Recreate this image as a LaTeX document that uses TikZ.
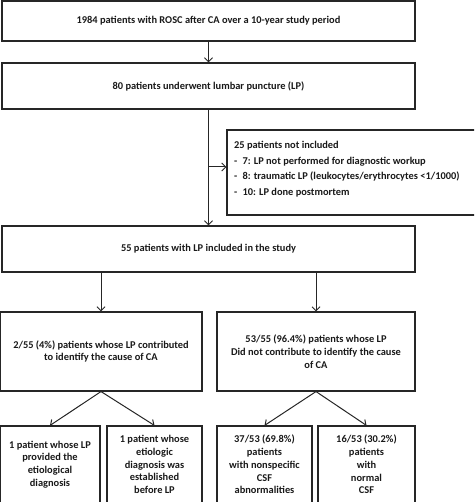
\documentclass[tikz,border=0pt]{standalone}
\usepackage{fontspec}
\setmainfont{Carlito}
\usetikzlibrary{arrows.meta}
\begin{document}
\begin{tikzpicture}[x=1pt,y=-1pt,
  box/.style={draw=black!85,line width=1.1pt,inner sep=0pt,rectangle,
    font=\bfseries\fontsize{10.4}{12.7}\selectfont,align=center,text=black!90},
  sidetext/.style={inner sep=0pt,align=left,text=black!90,
    font=\bfseries\fontsize{10.4}{15.6}\selectfont},
  arr/.style={-{Straight Barb[length=4pt,width=8pt]},line width=1pt,draw=black!85}]
\useasboundingbox (0,0) rectangle (474,502);
\clip (0,0) rectangle (474,502);
\node[box,minimum width=413pt,minimum height=40pt] (b1) at (208.5,21)
  {1984 patients with ROSC after CA over a 10-year study period};
\node[box,minimum width=413pt,minimum height=46pt] (b2) at (208.5,86)
  {80 patients underwent lumbar puncture (LP)};
\node[box,minimum width=263pt,minimum height=85pt] (side) at (358.5,172.5) {};
\node[sidetext,anchor=north west] (sidet) at (234,141)
  {25 patients not included\\
   -\enspace 7: LP not performed for diagnostic workup\\
   -\enspace 8: traumatic LP (leukocytes/erythrocytes <1/1000)\\
   -\enspace 10: LP done postmortem};
\node[box,minimum width=413pt,minimum height=46pt] (b3) at (208.5,249)
  {55 patients with LP included in the study};
\node[box,minimum width=202pt,minimum height=79pt] (mL) at (101,351.5)
  {2/55 (4\%) patients whose LP contributed\\to identify the cause of CA};
\node[box,minimum width=198pt,minimum height=79pt] (mR) at (316,351.5)
  {53/55 (96.4\%) patients whose LP\\Did not contribute to identify the cause\\of CA};
\node[box,minimum width=100pt,minimum height=77pt] (A) at (50,464.5)
  {1 patient whose LP\\provided the\\etiological\\diagnosis};
\node[box,minimum width=95pt,minimum height=77pt] (B) at (154.5,464.5)
  {1 patient whose\\etiologic\\diagnosis was\\established\\before LP};
\node[box,minimum width=95pt,minimum height=77pt] (C) at (264.5,464.5)
  {37/53 (69.8\%)\\patients\\with nonspecific\\CSF\\abnormalities};
\node[box,minimum width=97pt,minimum height=77pt] (D) at (366.5,464.5)
  {16/53 (30.2\%)\\patients\\with\\normal\\CSF};
\coordinate (br) at (208.5,167);
\draw[arr] (b1.south) -- (b2.north);
\draw[arr] (b2.south) -- (b3.north);
\draw[arr] (br) -- (side.west |- br);
\draw[arr] (b3.south -| mL.north) -- (mL.north);
\draw[arr] (b3.south -| mR.north) -- (mR.north);
\draw[arr] (mL.south) -- (A.north);
\draw[arr] (mL.south) -- (B.north);
\draw[arr] (mR.south) -- (C.north);
\draw[arr] (mR.south) -- (D.north);
\end{tikzpicture}
\end{document}
